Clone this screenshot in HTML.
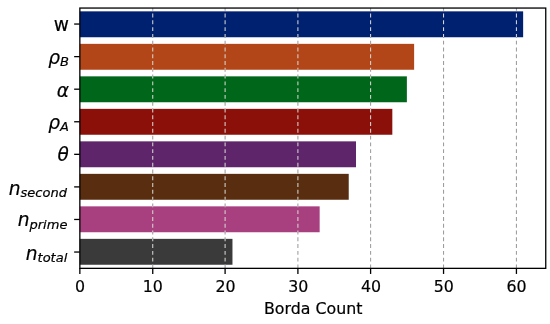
<!DOCTYPE html>
<html><head><meta charset="utf-8"><title>Borda Count</title>
<style>
html,body{margin:0;padding:0;background:#fff;}
body{width:550px;height:324px;overflow:hidden;}
svg{display:block;}
text{font-family:"DejaVu Sans","Liberation Sans",sans-serif;fill:#000;stroke:#000;stroke-width:0.2px;stroke-linejoin:round;}
.it{font-style:oblique;}
.gd{stroke:#9c9c9c;stroke-width:1.05;stroke-dasharray:3.9 2.88;fill:none;}
.gl{stroke:#d6d6d2;stroke-width:1.05;stroke-dasharray:3.9 2.88;fill:none;}
.ax{stroke:#000;stroke-width:1.3;fill:none;}
</style></head><body>
<svg width="550" height="324" viewBox="0 0 550 324">
<rect x="0" y="0" width="550" height="324" fill="#fff"/>
<defs><clipPath id="bars">
<rect x="79.85" y="11.35" width="443.29" height="25.90"/>
<rect x="79.85" y="43.85" width="334.28" height="25.90"/>
<rect x="79.85" y="76.35" width="327.02" height="25.90"/>
<rect x="79.85" y="108.85" width="312.48" height="25.90"/>
<rect x="79.85" y="141.35" width="276.15" height="25.90"/>
<rect x="79.85" y="173.85" width="268.88" height="25.90"/>
<rect x="79.85" y="206.35" width="239.81" height="25.90"/>
<rect x="79.85" y="238.85" width="152.61" height="25.90"/>
</clipPath></defs>
<g class="gd">
<line x1="152.74" y1="268.35" x2="152.74" y2="8.05"/>
<line x1="225.10" y1="268.35" x2="225.10" y2="8.05"/>
<line x1="297.90" y1="268.35" x2="297.90" y2="8.05"/>
<line x1="370.60" y1="268.35" x2="370.60" y2="8.05"/>
<line x1="443.55" y1="268.35" x2="443.55" y2="8.05"/>
<line x1="516.43" y1="268.35" x2="516.43" y2="8.05"/>
</g>
<rect x="79.85" y="11.35" width="443.29" height="25.90" fill="#002070"/>
<rect x="79.85" y="43.85" width="334.28" height="25.90" fill="#b24618"/>
<rect x="79.85" y="76.35" width="327.02" height="25.90" fill="#00661a"/>
<rect x="79.85" y="108.85" width="312.48" height="25.90" fill="#8c100a"/>
<rect x="79.85" y="141.35" width="276.15" height="25.90" fill="#5e256a"/>
<rect x="79.85" y="173.85" width="268.88" height="25.90" fill="#592d0f"/>
<rect x="79.85" y="206.35" width="239.81" height="25.90" fill="#a84080"/>
<rect x="79.85" y="238.85" width="152.61" height="25.90" fill="#3a3a3a"/>
<g class="gl" clip-path="url(#bars)">
<line x1="152.74" y1="268.35" x2="152.74" y2="8.05"/>
<line x1="225.10" y1="268.35" x2="225.10" y2="8.05"/>
<line x1="297.90" y1="268.35" x2="297.90" y2="8.05"/>
<line x1="370.60" y1="268.35" x2="370.60" y2="8.05"/>
<line x1="443.55" y1="268.35" x2="443.55" y2="8.05"/>
<line x1="516.43" y1="268.35" x2="516.43" y2="8.05"/>
</g>
<rect class="ax" x="79.85" y="8.05" width="465.90" height="260.30"/>
<line class="ax" x1="79.85" y1="268.35" x2="79.85" y2="273.95"/>
<text x="80.00" y="292.3" font-size="15.8" text-anchor="middle">0</text>
<line class="ax" x1="152.74" y1="268.35" x2="152.74" y2="273.95"/>
<text x="152.74" y="292.3" font-size="15.8" text-anchor="middle">10</text>
<line class="ax" x1="225.10" y1="268.35" x2="225.10" y2="273.95"/>
<text x="225.48" y="292.3" font-size="15.8" text-anchor="middle">20</text>
<line class="ax" x1="297.90" y1="268.35" x2="297.90" y2="273.95"/>
<text x="298.21" y="292.3" font-size="15.8" text-anchor="middle">30</text>
<line class="ax" x1="370.60" y1="268.35" x2="370.60" y2="273.95"/>
<text x="370.95" y="292.3" font-size="15.8" text-anchor="middle">40</text>
<line class="ax" x1="443.55" y1="268.35" x2="443.55" y2="273.95"/>
<text x="443.69" y="292.3" font-size="15.8" text-anchor="middle">50</text>
<line class="ax" x1="516.43" y1="268.35" x2="516.43" y2="273.95"/>
<text x="516.43" y="292.3" font-size="15.8" text-anchor="middle">60</text>
<line class="ax" x1="74.15" y1="24.05" x2="79.85" y2="24.05"/>
<text x="69.00" y="31.05" font-size="18.6" text-anchor="end">w</text>
<line class="ax" x1="74.15" y1="56.62" x2="79.85" y2="56.62"/>
<text x="69.00" y="63.90" font-size="18.6" text-anchor="end" class="it">ρ<tspan font-size="13.02" dy="2.39">B</tspan></text>
<line class="ax" x1="74.15" y1="89.19" x2="79.85" y2="89.19"/>
<text x="69.00" y="96.55" font-size="18.6" text-anchor="end" class="it">α</text>
<line class="ax" x1="74.15" y1="121.76" x2="79.85" y2="121.76"/>
<text x="69.00" y="128.95" font-size="18.6" text-anchor="end" class="it">ρ<tspan font-size="13.02" dy="2.39">A</tspan></text>
<line class="ax" x1="74.15" y1="154.33" x2="79.85" y2="154.33"/>
<text x="69.00" y="161.45" font-size="18.6" text-anchor="end" class="it">θ</text>
<line class="ax" x1="74.15" y1="186.90" x2="79.85" y2="186.90"/>
<text x="66.90" y="194.50" font-size="18.6" text-anchor="end" class="it">n<tspan font-size="13.02" dy="2.34">second</tspan></text>
<line class="ax" x1="74.15" y1="219.47" x2="79.85" y2="219.47"/>
<text x="67.40" y="225.95" font-size="18.6" text-anchor="end" class="it">n<tspan font-size="13.02" dy="2.79">prime</tspan></text>
<line class="ax" x1="74.15" y1="252.04" x2="79.85" y2="252.04"/>
<text x="67.30" y="259.55" font-size="18.6" text-anchor="end" class="it">n<tspan font-size="13.02" dy="2.49">total</tspan></text>
<text x="313.2" y="314.3" font-size="15.8" text-anchor="middle">Borda Count</text>
</svg></body></html>
